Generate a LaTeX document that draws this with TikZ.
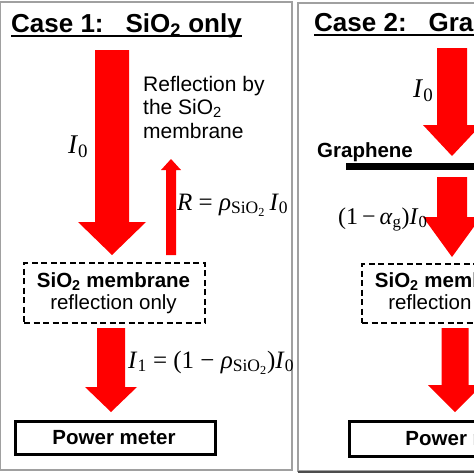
\documentclass[tikz,border=0pt]{standalone}
\usepackage{fontspec}
\setmainfont{Liberation Sans}
\newfontfamily\tnr{Liberation Serif}
\newcommand\fsz[2]{\fontsize{#1}{#2}\selectfont}
% fat block arrow: cx, ystart, yheadbase, ytip, shaft half width, head half width
\newcommand\fatarrow[6]{%
  \fill[arrred] (#1-#5,#2) -- (#1+#5,#2) -- (#1+#5,#3) -- (#1+#6,#3) -- (#1,#4)
    -- (#1-#6,#3) -- (#1-#5,#3) -- cycle;}
\definecolor{arrred}{RGB}{255,0,0}
\definecolor{panelgray}{RGB}{160,160,160}
\begin{document}
\begin{tikzpicture}[x=1pt,y=-1pt,
  lbl/.style={inner sep=0pt, font=\fsz{21}{24}},
  blbl/.style={inner sep=0pt, font=\bfseries\fsz{20.5}{24}},
  ttl/.style={inner sep=0pt, font=\bfseries\fsz{26}{30}},
  mth/.style={inner sep=0pt, font=\tnr\fsz{25}{29}},
  dbox/.style={draw, line width=2.3pt, dash pattern=on 6pt off 3.5pt, inner sep=0pt},
  pbox/.style={draw, line width=2.5pt, inner sep=0pt}]
\useasboundingbox (0,0) rectangle (474,474);
\clip (0,0) rectangle (474,474);
\fill[white] (0,0) rectangle (474,474);
% panels
\draw[panelgray, line width=1.5pt] (0.5,2) rectangle (292,470);
\draw[panelgray, line width=1.5pt] (298,3) rectangle (490,471);
\draw[black!70, line width=2pt] (298,471.5) -- (490,471.5);

% ---------- Case 1 ----------
\node[ttl, anchor=base west] (t1) at (11,32) {Case 1:\hspace{22pt}SiO\textsubscript{2} only};
\draw[line width=1.3pt] ([yshift=-4pt]t1.base west) -- ([yshift=-4pt]t1.base east);

\fatarrow{112}{50}{222}{255}{17}{34}
\fatarrow{171}{255}{170}{159}{5}{10}
\node[mth, anchor=base west, font=\tnr\fsz{27}{30}] (i0a) at (68,153) {\textit{I}\textsubscript{0}};

\node[lbl, anchor=base west] (r1) at (143,91) {Reflection by};
\node[lbl, anchor=base west] (r2) at (143,114) {the SiO\textsubscript{2}};
\node[lbl, anchor=base west] (r3) at (143,138) {membrane};

\node[mth, anchor=base west] (rl) at (177,210)
  {\textit{R} = \textit{ρ}\textsubscript{SiO\textsubscript{2}}\,\textit{I}\textsubscript{0}};

\node[dbox, anchor=north west, minimum width=181pt, minimum height=60pt] (m1) at (23,262) {};
\node[blbl, anchor=base] (m1a) at (113.5,287) {SiO\textsubscript{2} membrane};
\node[lbl, anchor=base, font=\fsz{20.5}{24}] (m1b) at (113.5,309) {reflection only};

\fatarrow{111}{328}{387}{412}{14}{26}
\node[mth, anchor=base west] (i1) at (128,368)
  {\textit{I}\textsubscript{1} = (1 − \textit{ρ}\textsubscript{SiO\textsubscript{2}})\textit{I}\textsubscript{0}};

\node[pbox, anchor=north west, minimum width=200pt, minimum height=33pt] (p1) at (14,420) {};
\node[blbl, anchor=base] (p1t) at (114,444) {Power meter};

% ---------- Case 2 ----------
\node[ttl, anchor=base west] (t2) at (314,31) {Case 2:\hspace{22pt}Graphene on SiO\textsubscript{2}};
\draw[line width=1.3pt] ([yshift=-4pt]t2.base west) -- ([yshift=-4pt]t2.base east);

\fatarrow{452}{48}{125}{156}{15}{29}
\node[mth, anchor=base west, font=\tnr\fsz{27}{30}] (i0b) at (413,97) {\textit{I}\textsubscript{0}};

\node[blbl, anchor=base west] (gl) at (317,157) {Graphene};
\fill (346,163) rectangle (490,170);

\fatarrow{452}{177}{217}{257}{15}{29}
\node[mth, anchor=base west, font=\tnr\fsz{24}{28}] (ag) at (338,224)
  {(1\,−\,\textit{α}\textsubscript{g})\textit{I}\textsubscript{0}};

\node[dbox, anchor=north west, minimum width=181pt, minimum height=59pt] (m2) at (361,263) {};
\node[blbl, anchor=base] (m2a) at (451.5,287) {SiO\textsubscript{2} membrane};
\node[lbl, anchor=base, font=\fsz{20.5}{24}] (m2b) at (451.5,309) {reflection only};

\fatarrow{455}{328}{385}{412}{13.5}{27}

\node[pbox, anchor=north west, minimum width=238pt, minimum height=35pt] (p2) at (348,420) {};
\node[blbl, anchor=base] (p2t) at (467,445) {Power meter};
\end{tikzpicture}
\end{document}
